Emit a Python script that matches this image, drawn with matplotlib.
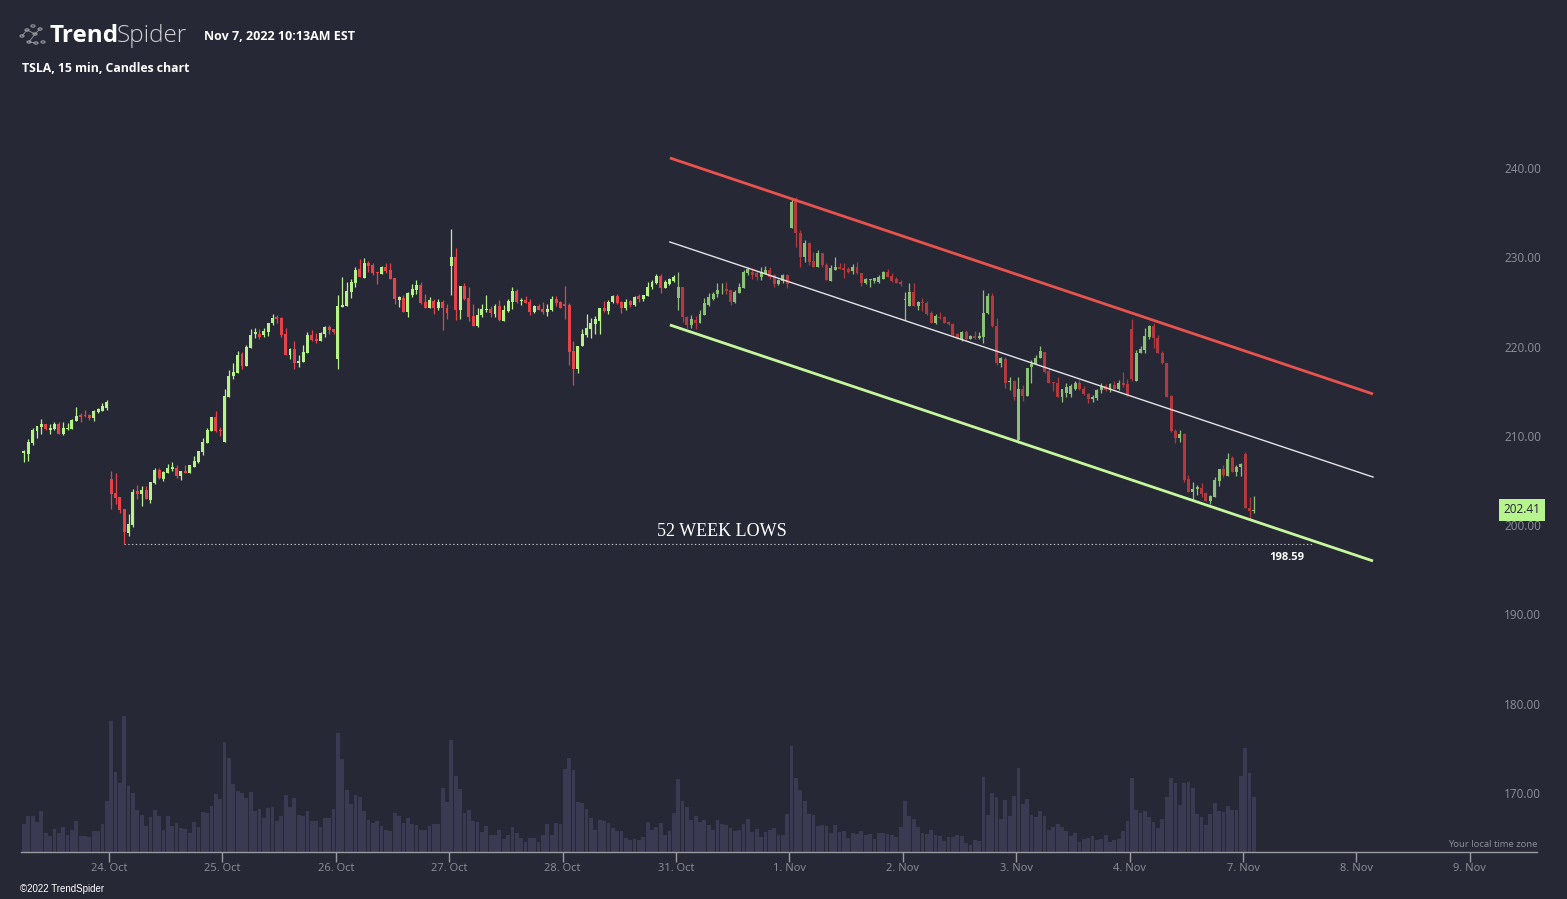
import numpy as np
import matplotlib
matplotlib.use('Agg')
import matplotlib.pyplot as plt
from matplotlib.transforms import ScaledTranslation
from matplotlib.patches import Circle
from matplotlib.lines import Line2D

# TSLA 15 min bars, rows are open, high, low, close
oct21 = [[208.75, 209.1, 207.8, 209.04], [208.7, 210.4, 207.9, 210.0], [209.9, 211.6, 209.7, 211.4],
         [211.3, 211.8, 210.5, 211.8], [211.7, 212.6, 210.9, 212.0], [212.0, 212.0, 211.4, 211.5],
         [211.4, 212.0, 210.9, 211.6], [211.5, 212.3, 211.4, 212.0], [212.0, 212.2, 210.9, 210.95],
         [210.9, 212.2, 210.8, 211.55], [211.45, 212.1, 211.4, 211.55], [211.5, 212.6, 211.5, 212.5],
         [212.4, 213.9, 212.4, 212.9], [213.0, 213.3, 212.3, 212.85], [212.95, 213.6, 212.85, 212.9],
         [213.0, 213.2, 212.5, 212.75], [212.75, 213.6, 212.4, 213.5], [213.4, 213.8, 213.3, 213.7],
         [213.5, 214.4, 213.5, 214.05], [213.8, 214.7, 213.6, 214.5]]
oct24 = [[205.87, 206.77, 202.51, 204.16], [204.27, 206.55, 203.07, 203.71], [203.82, 203.82, 202.1, 202.44],
         [202.48, 202.48, 198.59, 199.9], [199.79, 201.95, 199.53, 200.83], [200.72, 204.75, 200.5, 204.42],
         [204.53, 205.16, 203.6, 204.23], [204.23, 205.1, 202.9, 204.64], [204.64, 205.1, 203.6, 203.6],
         [203.56, 205.54, 203.2, 205.54], [205.46, 207.07, 205.35, 206.88], [206.88, 207.1, 205.9, 206.02],
         [205.87, 206.8, 205.7, 206.66], [206.58, 207.55, 206.58, 207.1], [206.96, 207.78, 206.8, 207.18],
         [207.1, 207.44, 205.99, 206.25], [206.25, 206.81, 205.76, 206.81], [206.77, 207.44, 206.58, 206.58],
         [206.58, 207.44, 206.58, 207.44], [207.18, 208.45, 207.18, 207.89], [207.81, 209.05, 207.63, 209.05],
         [208.93, 210.46, 208.56, 210.02], [209.9, 211.58, 209.9, 211.36], [211.29, 212.82, 211.29, 212.82],
         [212.82, 213.45, 211.14, 211.25], [211.36, 211.7, 210.69, 211.25]]
oct25 = [[210.05, 215.95, 210.05, 215.17], [215.09, 218.07, 215.09, 217.4], [217.4, 218.82, 217.1, 217.81],
         [217.77, 220.2, 217.77, 219.75], [219.86, 220.05, 218.22, 218.56], [218.56, 220.87, 218.56, 220.65],
         [220.57, 222.66, 220.57, 221.95], [222.08, 222.77, 221.69, 222.3], [222.1, 222.66, 221.54, 221.8],
         [221.99, 222.77, 221.8, 222.44], [222.36, 223.3, 221.9, 223.3], [223.3, 224.3, 223.07, 223.86],
         [224.0, 224.23, 223.3, 223.75], [223.86, 224.0, 221.8, 221.99], [222.07, 222.77, 219.79, 219.79],
         [219.75, 220.57, 219.27, 220.42], [220.42, 221.32, 218.22, 218.89], [218.9, 219.75, 218.45, 219.1],
         [219.0, 220.87, 219.0, 220.09], [220.01, 222.29, 220.01, 221.99], [221.99, 222.55, 221.36, 221.43],
         [221.5, 222.25, 221.13, 221.36], [221.36, 222.33, 221.36, 222.25], [222.07, 223.0, 221.8, 222.92],
         [222.92, 223.11, 222.1, 222.55], [222.66, 222.66, 222.1, 222.29]]
oct26 = [[219.3, 226.47, 218.18, 225.24], [225.13, 228.52, 225.13, 225.39], [225.24, 227.93, 225.24, 226.92],
         [226.84, 228.26, 226.14, 227.93], [227.85, 229.61, 227.37, 229.27], [229.35, 230.47, 228.45, 228.45],
         [228.41, 230.65, 228.41, 230.09], [230.09, 230.24, 229.08, 229.76], [229.83, 230.09, 228.71, 228.97],
         [229.08, 229.08, 227.74, 228.9], [228.79, 229.76, 228.79, 229.64], [229.61, 230.09, 228.97, 229.2],
         [229.27, 230.09, 228.3, 228.3], [228.41, 228.41, 225.43, 226.06], [225.91, 226.36, 225.09, 226.21],
         [226.1, 226.47, 224.6, 224.6], [224.57, 226.81, 224.04, 226.66], [226.47, 227.67, 226.28, 227.14],
         [227.03, 228.11, 226.58, 227.59], [227.59, 227.96, 225.46, 225.61], [225.65, 226.58, 225.05, 225.05],
         [225.05, 226.21, 225.05, 225.91], [225.8, 225.99, 224.38, 224.98], [225.02, 225.99, 224.75, 225.69],
         [225.69, 225.91, 222.55, 224.98], [225.02, 225.43, 223.78, 224.49]]
oct27 = [[229.76, 233.86, 226.47, 230.73], [230.73, 231.73, 223.67, 224.79], [224.79, 227.48, 223.78, 227.48],
         [227.48, 227.82, 225.91, 226.06], [226.1, 227.33, 223.6, 224.04], [224.12, 225.43, 223.04, 223.04],
         [223.0, 224.98, 222.85, 224.19], [224.19, 225.43, 224.04, 224.94], [224.79, 226.43, 224.53, 224.85],
         [224.9, 225.24, 224.04, 224.42], [224.34, 225.46, 224.0, 225.24], [225.24, 225.91, 223.6, 223.67],
         [223.6, 225.31, 223.6, 224.79], [224.72, 226.06, 224.6, 225.8], [225.72, 227.4, 224.94, 226.96],
         [226.92, 227.11, 225.61, 225.72], [225.8, 226.14, 225.35, 225.85], [225.91, 226.32, 225.54, 225.54],
         [225.69, 225.99, 224.23, 224.6], [224.57, 225.35, 224.49, 225.24], [225.24, 225.46, 224.79, 224.79],
         [224.9, 225.69, 224.34, 224.57], [224.57, 225.46, 224.12, 224.9], [224.79, 226.36, 224.68, 226.02],
         [226.02, 226.36, 225.24, 225.61], [225.65, 225.76, 225.02, 225.02]]
oct28 = [[225.46, 227.52, 223.78, 225.24], [225.35, 225.57, 218.63, 220.12], [220.2, 221.32, 216.39, 218.18],
         [218.18, 220.76, 217.77, 220.76], [220.76, 222.66, 220.76, 222.1], [222.0, 224.3, 221.73, 222.77],
         [222.62, 223.86, 221.69, 223.34], [223.26, 224.12, 222.1, 223.75], [223.56, 224.98, 222.1, 224.98],
         [225.02, 225.8, 224.57, 224.68], [224.68, 225.91, 224.34, 225.69], [225.65, 226.47, 225.54, 226.36],
         [226.36, 226.58, 225.46, 225.54], [225.65, 225.8, 224.45, 224.98], [225.02, 225.99, 224.79, 225.72],
         [225.8, 225.91, 225.16, 225.31], [225.31, 226.36, 225.24, 226.28], [226.32, 226.58, 225.69, 226.06],
         [226.02, 226.47, 225.84, 226.47], [226.36, 227.93, 226.36, 227.4], [227.4, 228.15, 227.11, 227.93],
         [227.85, 228.82, 227.67, 228.6], [228.6, 228.82, 226.73, 227.29], [227.29, 228.11, 227.29, 227.89],
         [227.67, 228.37, 227.59, 228.26], [228.04, 228.71, 227.93, 228.52]]
oct31 = [[226.1, 229.08, 224.79, 227.4], [227.33, 227.33, 223.48, 223.97], [223.97, 224.12, 222.81, 223.11],
         [223.11, 224.23, 222.81, 223.75], [223.67, 224.12, 222.66, 223.37], [223.3, 224.79, 223.3, 224.34],
         [224.23, 226.1, 224.23, 225.54], [225.35, 226.73, 225.24, 226.28], [226.02, 226.84, 225.91, 226.58],
         [226.58, 227.78, 226.28, 227.03], [227.11, 227.78, 226.58, 227.14], [227.18, 227.96, 226.58, 226.96],
         [227.03, 227.03, 225.35, 225.72], [225.72, 227.03, 225.61, 226.84], [226.73, 227.78, 226.73, 227.4],
         [227.29, 229.27, 227.29, 229.08], [228.97, 229.65, 228.71, 229.35], [229.08, 229.46, 228.3, 228.71],
         [228.97, 229.2, 228.15, 228.45], [228.52, 229.57, 228.15, 229.08], [228.82, 229.72, 228.82, 229.27],
         [229.27, 229.57, 228.23, 228.45], [228.71, 228.82, 227.4, 227.7], [227.7, 228.23, 227.59, 228.15],
         [228.08, 228.82, 227.85, 228.71], [228.71, 228.82, 227.22, 227.7]]
nov01 = [[234.01, 237.3, 234.01, 236.92], [237.11, 237.41, 231.88, 233.38], [233.38, 233.75, 229.57, 230.69],
         [230.69, 232.63, 230.13, 232.33], [232.33, 232.44, 229.83, 230.2], [230.28, 231.32, 229.57, 229.65],
         [229.65, 231.51, 229.57, 231.21], [231.14, 231.14, 229.57, 229.83], [229.83, 230.09, 228.15, 228.15],
         [228.08, 229.83, 228.08, 229.46], [229.27, 230.69, 229.27, 229.57], [229.57, 230.09, 229.34, 229.42],
         [229.46, 230.02, 228.34, 229.27], [229.42, 229.57, 228.9, 229.05], [229.16, 229.94, 228.78, 229.57],
         [229.57, 230.2, 228.82, 228.9], [228.97, 228.97, 227.48, 227.78], [227.85, 228.34, 227.7, 228.23],
         [228.15, 228.3, 227.33, 228.3], [228.04, 228.41, 227.78, 228.41], [227.96, 228.71, 227.78, 228.45],
         [228.23, 229.2, 228.23, 229.08], [229.08, 229.35, 228.45, 228.52], [228.6, 228.9, 227.96, 228.08],
         [228.23, 228.45, 227.78, 227.85], [227.96, 228.15, 227.48, 227.67]]
nov02 = [[225.95, 226.84, 223.67, 226.05], [225.28, 227.78, 225.24, 226.84], [226.77, 227.78, 225.2, 225.28],
         [225.24, 225.8, 224.8, 225.72], [225.65, 226.1, 224.72, 225.54], [225.54, 225.8, 224.2, 224.3],
         [224.42, 224.68, 223.3, 223.37], [223.3, 224.3, 223.2, 224.15], [224.04, 224.53, 223.8, 223.9],
         [223.97, 224.1, 223.3, 223.37], [223.48, 223.6, 223.1, 223.26], [223.18, 223.3, 221.9, 221.99],
         [222.1, 222.2, 221.5, 221.62], [221.54, 222.4, 221.3, 222.36], [222.36, 222.6, 221.4, 221.51],
         [221.54, 222.0, 221.5, 221.92], [221.9, 222.4, 221.6, 221.7], [221.7, 222.36, 221.6, 221.9],
         [221.8, 227.03, 221.06, 224.42], [224.42, 226.7, 224.3, 226.4], [226.4, 226.66, 222.9, 223.04],
         [223.0, 223.86, 218.63, 218.89], [218.89, 219.5, 218.45, 219.38], [219.3, 219.5, 216.02, 216.65],
         [216.7, 217.33, 215.83, 216.8], [216.84, 217.0, 214.71, 215.08]]
nov03 = [[210.23, 217.25, 209.9, 215.94], [215.94, 216.4, 214.64, 215.2], [215.2, 218.3, 215.2, 218.26],
         [218.4, 219.2, 216.6, 218.8], [218.71, 219.75, 218.71, 219.45], [219.38, 220.76, 219.38, 220.24],
         [220.12, 220.12, 217.77, 217.88], [217.96, 218.15, 216.58, 216.58], [216.7, 216.7, 215.76, 216.6],
         [216.58, 217.25, 215.08, 215.08], [215.08, 215.9, 214.52, 215.9], [215.5, 216.6, 215.1, 216.2],
         [215.4, 216.5, 215.0, 216.3], [216.0, 216.8, 215.8, 216.6], [216.6, 216.9, 215.8, 216.0],
         [216.0, 216.3, 215.3, 215.4], [215.4, 215.5, 214.4, 214.8], [214.8, 215.3, 214.5, 215.1],
         [214.9, 215.9, 214.7, 215.8], [215.84, 216.6, 215.5, 216.3], [216.3, 216.5, 215.7, 215.8],
         [215.84, 216.6, 215.6, 216.51], [216.4, 216.8, 215.9, 215.92], [215.92, 216.9, 215.8, 216.66],
         [216.66, 217.8, 216.2, 216.4], [216.5, 217.1, 215.2, 215.3]]
nov04 = [[222.63, 223.79, 216.84, 217.04], [216.84, 220.3, 216.84, 220.01], [219.94, 220.76, 219.94, 220.39],
         [220.31, 222.75, 220.0, 221.88], [221.8, 223.11, 221.6, 223.0], [223.0, 223.38, 220.58, 221.62],
         [221.62, 221.99, 219.94, 219.94], [219.94, 220.2, 218.75, 218.82], [218.82, 218.82, 215.08, 215.08],
         [215.16, 215.27, 211.1, 211.28], [211.28, 211.43, 209.86, 210.42], [210.42, 211.35, 210.05, 210.9],
         [210.91, 211.0, 205.57, 205.76], [205.84, 206.32, 204.46, 204.46], [204.46, 205.57, 203.52, 204.72],
         [204.72, 205.2, 204.08, 204.94], [204.83, 205.46, 203.82, 204.19], [204.27, 204.4, 203.41, 203.41],
         [203.41, 204.1, 203.07, 203.97], [203.9, 206.13, 203.9, 205.76], [205.69, 206.96, 205.13, 206.96],
         [206.96, 207.44, 206.06, 206.32], [206.25, 208.75, 206.2, 208.11], [208.19, 208.49, 206.7, 206.7],
         [206.7, 207.45, 206.21, 207.26], [207.18, 207.7, 206.21, 207.55]]
nov07 = [[208.67, 208.94, 202.59, 202.59], [202.59, 203.9, 201.47, 202.33], [202.33, 203.97, 202.03, 202.41]]

# volume per bar, thousands of shares
vol_oct21 = [840, 1080, 1080, 900, 1230, 570, 490, 690, 570, 750, 510, 660, 930, 490, 490, 460, 630, 630, 840, 1530]
vol_oct24 = [3930, 2410, 2070, 4080, 1980, 1770, 1260, 1110, 780, 1050, 1260, 1080, 660, 1080, 780, 870, 720,
             690, 570, 900, 750, 1200, 1170, 1380, 1740, 1590]
vol_oct25 = [3300, 2820, 2040, 1830, 1770, 1620, 1800, 1230, 1290, 1020, 1320, 1350, 930, 1080, 1710, 1350, 1620,
             1110, 1080, 1230, 930, 930, 750, 1020, 1020, 1290]
vol_oct26 = [3570, 2790, 1860, 1440, 1710, 1650, 1230, 960, 870, 930, 780, 660, 630, 1170, 1080, 870, 1020, 840,
             810, 660, 660, 780, 840, 840, 1920, 1500]
vol_oct27 = [3360, 2280, 1890, 1170, 1260, 930, 900, 600, 780, 510, 510, 660, 390, 510, 750, 570, 420, 300, 420,
             420, 300, 510, 840, 510, 870, 840]
vol_oct28 = [2490, 2820, 2460, 1500, 1470, 1290, 1020, 660, 960, 930, 870, 720, 630, 630, 420, 360, 390, 360, 450,
             900, 660, 750, 870, 510, 630, 1170]
vol_oct31 = [2190, 1530, 1350, 960, 1080, 900, 960, 810, 660, 960, 840, 810, 720, 630, 660, 840, 990, 600, 690,
             450, 600, 660, 720, 510, 510, 1140]
vol_nov01 = [3180, 2220, 1860, 1530, 1140, 1110, 780, 810, 780, 570, 810, 600, 630, 420, 570, 540, 630, 510, 540,
             390, 570, 570, 540, 510, 460, 750]
vol_nov02 = [1530, 1080, 990, 750, 570, 540, 660, 510, 480, 330, 450, 450, 510, 480, 270, 210, 360, 340, 2250,
             1110, 1770, 1650, 990, 1560, 1080, 1680]
vol_nov03 = [2520, 1440, 1590, 1110, 1050, 1230, 1080, 660, 750, 840, 750, 630, 480, 570, 300, 390, 420, 480, 360,
             390, 510, 300, 360, 390, 630, 930]
vol_nov04 = [2220, 1260, 1170, 1230, 1050, 900, 720, 990, 1650, 2220, 2070, 1410, 2070, 2100, 1920, 1140, 1050,
             810, 1140, 1470, 1230, 1200, 1380, 1260, 1260, 2280]
vol_nov07 = [3110, 2370, 1650]

day_labels = ['24. Oct', '25. Oct', '26. Oct', '27. Oct', '28. Oct', '31. Oct', '1. Nov', '2. Nov',
              '3. Nov', '4. Nov', '7. Nov', '8. Nov', '9. Nov']
bars_per_day = 26
bars_before_first_tick = 20     # afternoon of 21 Oct
highlight_from = 150            # first bar of 31 Oct
price_ticks = [170, 180, 190, 200, 210, 220, 230, 240]

# trend channel drawn on the chart (bar index, price)
channel_x = [128.6, 289.8]
channel_upper = [241.82, 215.39]
channel_mid = [232.41, 206.09]
channel_lower = [223.12, 196.69]
low_52w = 198.59
low_line_x = [3.5, 275.8]
low_label_x = 140.5
last_price = 202.41

BG = '#262836'
UP, DN = '#b6f28a', '#e6424a'
UP_M, DN_M = '#8cc276', '#b3393f'
GRAY = '#8e9099'

ohlc = np.array(oct21 + oct24 + oct25 + oct26 + oct27 + oct28 + oct31 + nov01 + nov02 + nov03 + nov04 + nov07)
vol = np.array(vol_oct21 + vol_oct24 + vol_oct25 + vol_oct26 + vol_oct27 + vol_oct28 + vol_oct31 + vol_nov01
               + vol_nov02 + vol_nov03 + vol_nov04 + vol_nov07)
o, h, l, c = ohlc.T
idx = np.arange(len(o))
x = idx - bars_before_first_tick + 0.5

W, H = 1567, 899
fig = plt.figure(figsize=(W / 100, H / 100), dpi=100, facecolor=BG)
rect = [21 / W, 47 / H, 1516 / W, 752 / H]

axv = fig.add_axes(rect, facecolor=BG, zorder=0)
ax = fig.add_axes(rect, zorder=1)
ax.patch.set_alpha(0)

xlim = (-20.17, 327.4)
# volume pane
axv.bar(x, vol, width=0.86, color='#3a3b53', linewidth=0)
axv.set_xlim(*xlim)
axv.set_ylim(0, 752 * 30)
axv.axis('off')

# candles
up = c >= o
cols = np.where(idx >= highlight_from, np.where(up, UP_M, DN_M), np.where(up, UP, DN))
ax.vlines(x, l, h, colors=cols, lw=0.9, zorder=3)
body = np.maximum(np.abs(c - o), 0.09)
ax.bar(x, body, bottom=np.minimum(o, c), width=0.68, color=cols, linewidth=0, zorder=4)

# channel
ax.plot(channel_x, channel_upper, color='#e9524d', lw=2.0, zorder=5, solid_capstyle='butt')
ax.plot(channel_x, channel_mid, color='#e4e4e8', lw=1.0, zorder=5)
ax.plot(channel_x, channel_lower, color='#c6f79c', lw=2.0, zorder=5, solid_capstyle='butt')

# 52 week low marker
ax.plot(low_line_x, [low_52w, low_52w], color='#c8c8cc', lw=0.8, ls=(0, (1.2, 2.2)), zorder=2)
ax.text(low_label_x, low_52w + 1.35, '52 WEEK LOWS', color='white',
        fontsize=13, family='Liberation Serif', ha='center', va='center', zorder=6)
ax.text(low_line_x[1] - 5.8, low_52w - 1.5, f'{low_52w:.2f}', color='white', fontsize=8,
        fontweight='bold', family='Open Sans', ha='center', va='center', zorder=6)

ax.set_xlim(*xlim)
ax.set_ylim(164.10, 248.31)

for s in ['top', 'left', 'right']:
    ax.spines[s].set_visible(False)
ax.spines['bottom'].set_color('#9a9aa0')
ax.spines['bottom'].set_linewidth(1.0)

ax.set_xticks(np.arange(len(day_labels)) * bars_per_day)
ax.set_xticklabels(day_labels, fontsize=8, color=GRAY, family='Open Sans')
ax.tick_params(axis='x', length=7.2, width=1, color='#9a9aa0', pad=1)

ax.yaxis.tick_right()
ax.set_yticks(price_ticks)
ax.set_yticklabels([f'{t:.2f}' for t in price_ticks], fontsize=8.5, color=GRAY, family='Open Sans')
ax.tick_params(axis='y', length=0, pad=3)
shift = ScaledTranslation(0, 6.3 / 100, fig.dpi_scale_trans)
for lab in ax.get_yticklabels():
    lab.set_horizontalalignment('right')
    lab.set_transform(lab.get_transform() + shift)

# last price tag
ax.text(0.990, last_price, f'{last_price:.2f}', transform=ax.get_yaxis_transform(), ha='center',
        va='center', fontsize=8.5, color='#23252f', family='Open Sans', zorder=7,
        bbox=dict(boxstyle='square,pad=0.4', fc='#b8f48e', ec='none'))

ax.text(1.0, 0.004, 'Your local time zone', transform=ax.transAxes, ha='right', va='bottom',
        fontsize=6.8, color=GRAY, family='Open Sans')

# header
def fpos(px, py):
    return px / W, 1 - py / H

fig.text(*fpos(49, 36), 'Trend', fontsize=17.5, fontweight='bold', color='white',
         family='Open Sans', va='center', ha='left')
fig.text(*fpos(117, 36), 'Spider', fontsize=17.5, fontweight='light', color='#d2d2d6',
         family='Open Sans', va='center', ha='left')
nodes = [(22, 36), (27, 30), (33, 26), (35, 34), (40, 29), (29, 42), (36, 43), (43, 42)]
for (px, py) in nodes:
    fig.add_artist(Circle(fpos(px, py), 2.0 / W, transform=fig.transFigure, fill=False,
                          ec='#9a9aa0', lw=0.8))
for a, b in [(0, 1), (1, 3), (3, 4), (3, 5), (5, 6)]:
    (x0, y0), (x1, y1) = fpos(*nodes[a]), fpos(*nodes[b])
    fig.add_artist(Line2D([x0, x1], [y0, y1], transform=fig.transFigure, color='#9a9aa0', lw=0.6))

fig.text(*fpos(204, 36), 'Nov 7, 2022 10:13AM EST', fontsize=9, fontweight='bold', color='white',
         family='Open Sans', va='center', ha='left')
fig.text(*fpos(22, 68), 'TSLA, 15 min, Candles chart', fontsize=8.8, fontweight='bold', color='white',
         family='Open Sans', va='center', ha='left')
fig.text(*fpos(20, 889), '\u00a92022 TrendSpider', fontsize=7, color='white',
         family='Liberation Sans', va='center', ha='left')

fig.savefig('out.png', dpi=100, facecolor=BG)
